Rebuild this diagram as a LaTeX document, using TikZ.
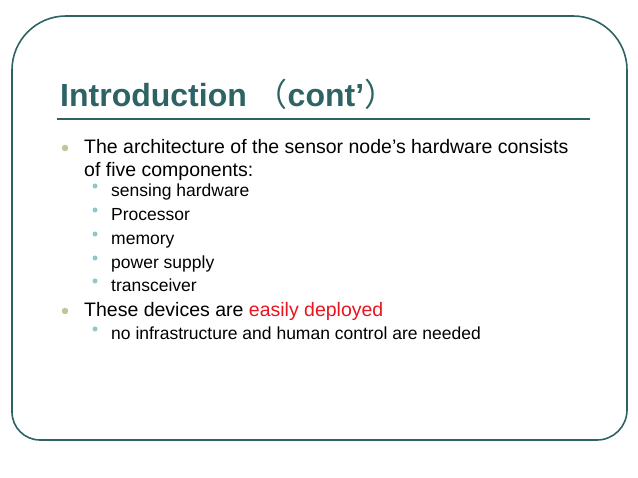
\documentclass[tikz,border=0pt]{standalone}
\usepackage{fontspec}
\setmainfont{Liberation Sans}
\newfontfamily\cjk{Noto Sans CJK SC}
\definecolor{teal1}{HTML}{2E6363}
\definecolor{olive1}{HTML}{C4C49A}
\definecolor{cyan1}{HTML}{8CC8CC}
\definecolor{red1}{HTML}{E8141E}
\begin{document}
\begin{tikzpicture}[x=1pt,y=-1pt,
  lvl1/.style={anchor=base west,inner sep=0,font=\fontsize{19.5}{23}\selectfont},
  lvl2/.style={anchor=base west,inner sep=0,font=\fontsize{17.5}{21}\selectfont},
  dot1/.style={circle,fill=olive1,inner sep=0,minimum size=6.5pt},
  dot2/.style={circle,fill=cyan1,inner sep=0,minimum size=5pt}]
\useasboundingbox (0,0) rectangle (638,478);
\draw[teal1,line width=1.6pt] (12,240) [rounded corners=54] |- (320,16) -| (627,240)
  [rounded corners=30] |- (320,440) [rounded corners=28] -| (12,240);
\node[anchor=base west,inner sep=0,text=teal1,font=\fontsize{32}{36}\selectfont\bfseries] (title) at (60,107) {Introduction {\cjk\mdseries （}cont’{\cjk\mdseries ）}};
\draw[teal1,line width=2.5pt] (57,119) -- (590,119);
\node[dot1] (d1) at (65,148) {};
\node[lvl1] (t1) at (84,154) {The architecture of the sensor node’s hardware consists};
\node[lvl1] (t1b) at (84,177) {of five components:};
\foreach \y/\t [count=\i] in {197/sensing hardware,221/Processor,245/memory,269/power supply,292/transceiver}{
  \node[dot2] (s\i) at (95,\y-11) {};
  \node[lvl2] (u\i) at (111,\y) {\t};
}
\node[dot1] (d2) at (65,311) {};
\node[lvl1] (t2) at (84,317) {These devices are \textcolor{red1}{easily deployed}};
\node[dot2] (s6) at (95,329) {};
\node[lvl2] (u6) at (111,340) {no infrastructure and human control are needed};
\end{tikzpicture}
\end{document}
